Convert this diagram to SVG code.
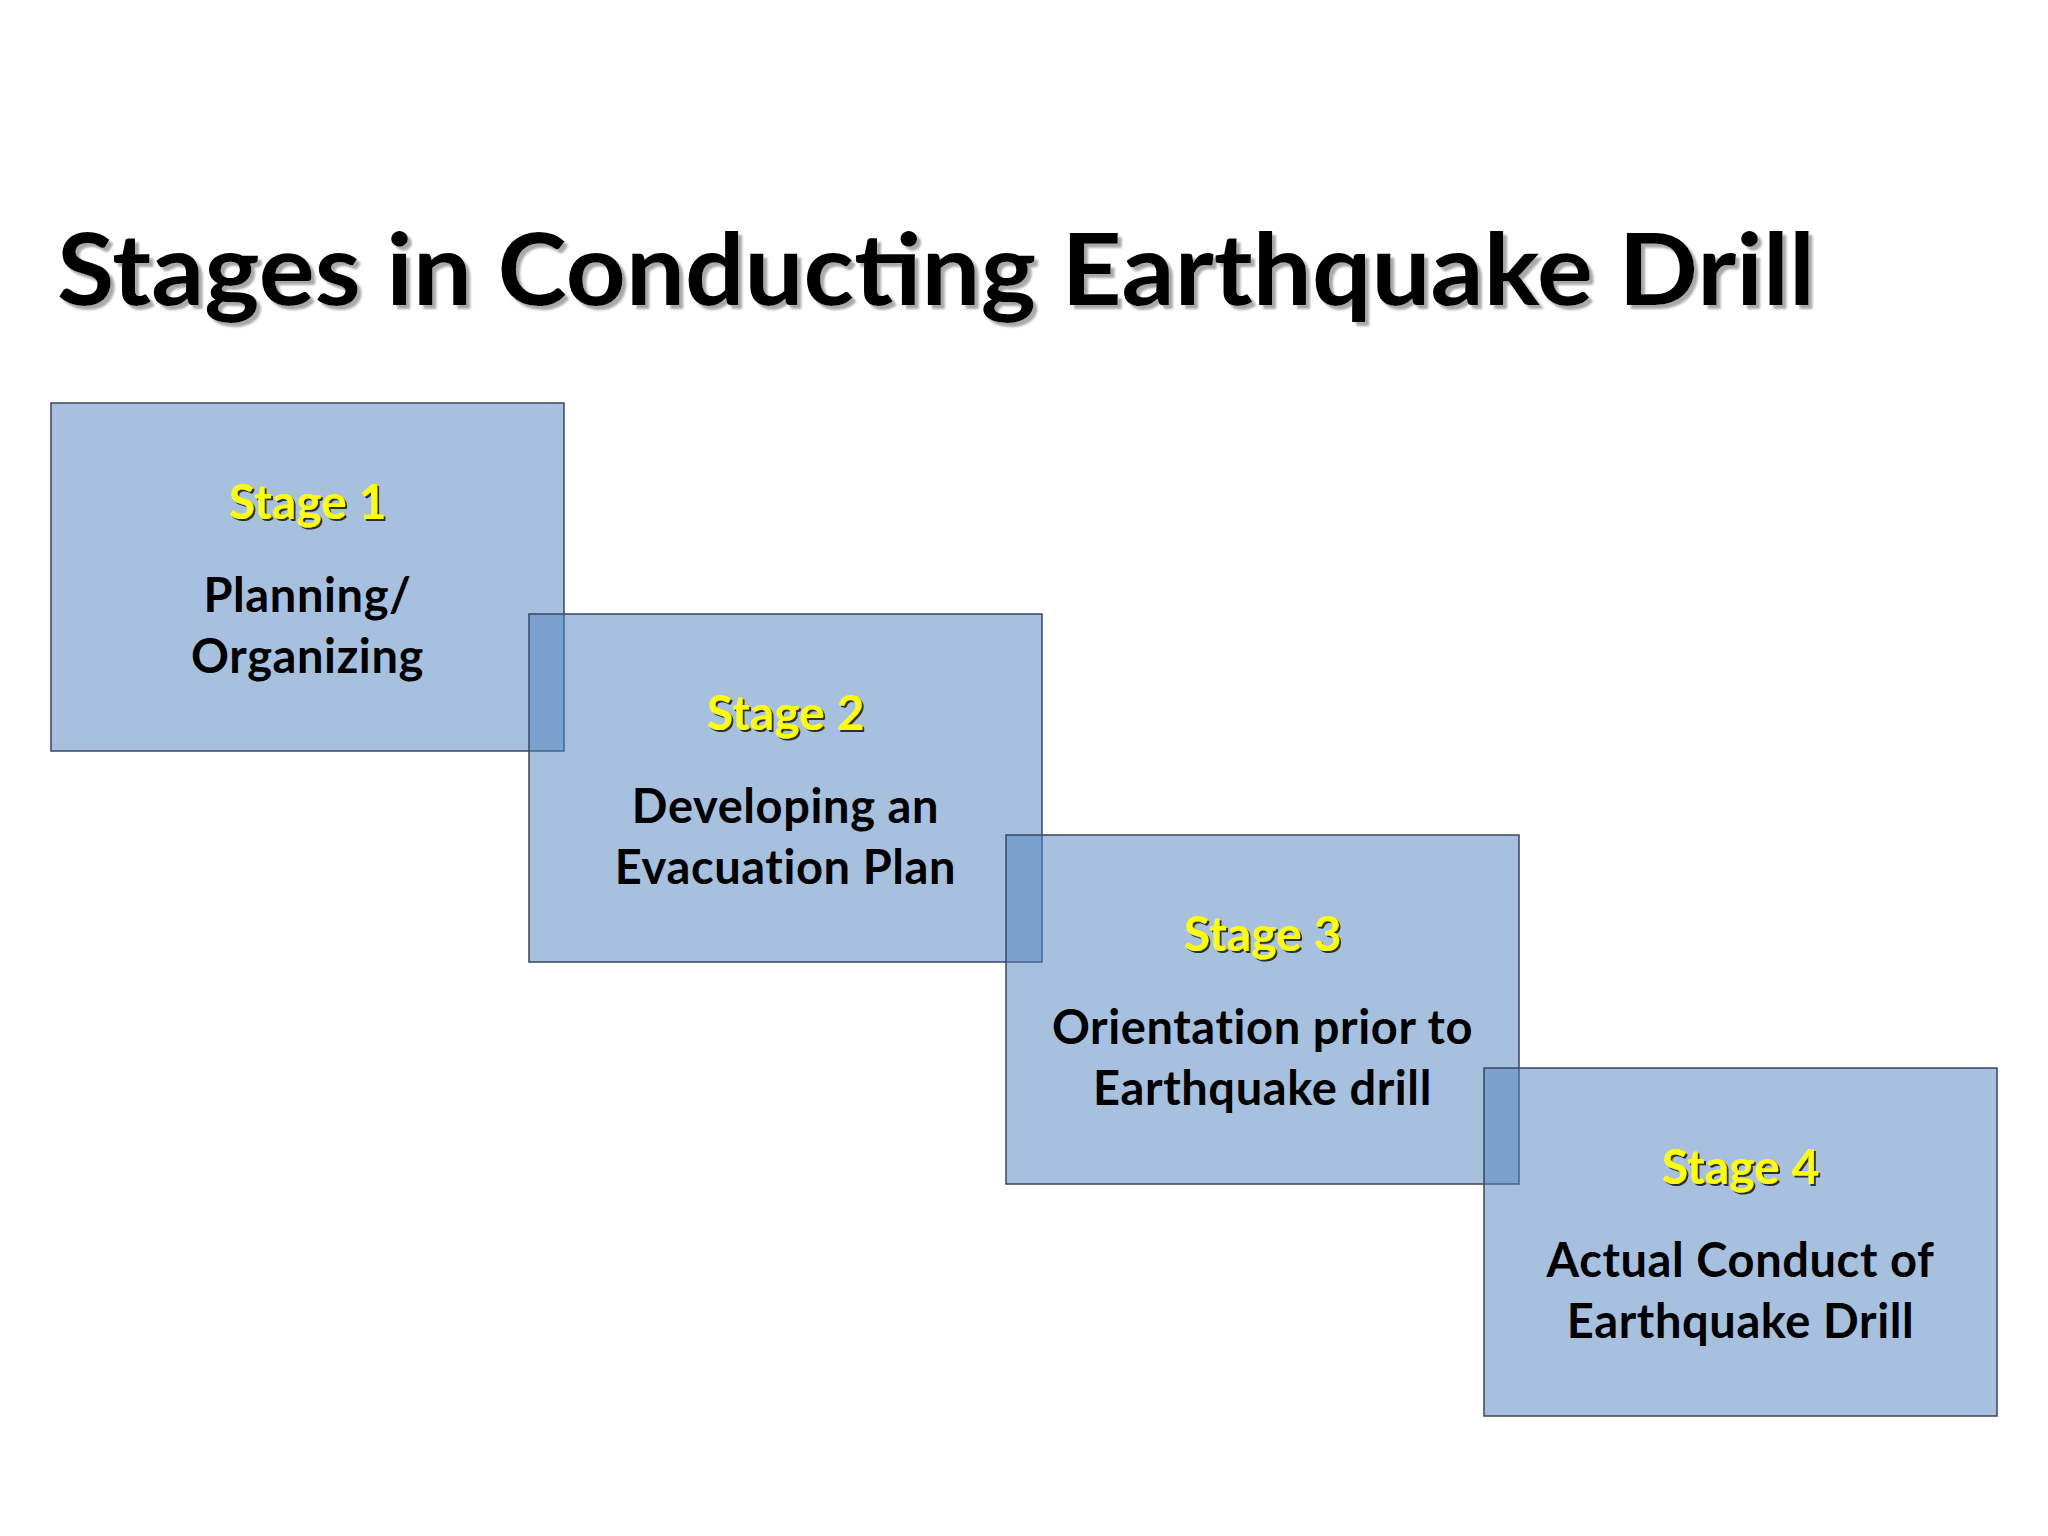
<svg xmlns="http://www.w3.org/2000/svg" width="2048" height="1536" viewBox="0 0 2048 1536">
  <defs>
    <filter id="titleShadow" x="-5%" y="-20%" width="110%" height="150%">
      <feDropShadow dx="4" dy="4" stdDeviation="0.8" flood-color="#9a9a9a" flood-opacity="0.85"/>
    </filter>
    <filter id="stageShadow" x="-10%" y="-20%" width="120%" height="150%">
      <feDropShadow dx="2" dy="2" stdDeviation="0.6" flood-color="#000000" flood-opacity="0.75"/>
    </filter>
  </defs>
  <style>
    .box { fill: #4F81BD; fill-opacity: 0.5; stroke: #3A4560; stroke-width: 1.5; }
    .title { font-family: Lato, "Liberation Sans", sans-serif; font-weight: 700; font-size: 100px; fill: #000000; }
    .stage { font-family: Lato, "Liberation Sans", sans-serif; font-weight: 700; font-size: 48px; fill: #FFFF00; text-anchor: middle; }
    .body { font-family: Lato, "Liberation Sans", sans-serif; font-weight: 700; font-size: 47px; letter-spacing: 0.6px; fill: #000000; text-anchor: middle; }
  </style>
  <rect width="2048" height="1536" fill="#FFFFFF"/>
  <text class="title" x="57" y="305" textLength="1758" lengthAdjust="spacingAndGlyphs" filter="url(#titleShadow)">Stages in Conducting Earthquake Drill</text>

  <g id="stage1">
    <rect class="box" x="51" y="403" width="513" height="348"/>
    <text class="stage" x="307.5" y="519" filter="url(#stageShadow)">Stage 1</text>
    <text class="body" x="307.5" y="612">Planning/</text>
    <text class="body" x="307.5" y="673">Organizing</text>
  </g>
  <g id="stage2">
    <rect class="box" x="529" y="614" width="513" height="348"/>
    <text class="stage" x="785.5" y="730" filter="url(#stageShadow)">Stage 2</text>
    <text class="body" x="785.5" y="823">Developing an</text>
    <text class="body" x="785.5" y="884">Evacuation Plan</text>
  </g>
  <g id="stage3">
    <rect class="box" x="1006" y="835" width="513" height="349"/>
    <text class="stage" x="1262.5" y="951" filter="url(#stageShadow)">Stage 3</text>
    <text class="body" x="1262.5" y="1044">Orientation prior to</text>
    <text class="body" x="1262.5" y="1105">Earthquake drill</text>
  </g>
  <g id="stage4">
    <rect class="box" x="1484" y="1068" width="513" height="348"/>
    <text class="stage" x="1740.5" y="1184" filter="url(#stageShadow)">Stage 4</text>
    <text class="body" x="1740.5" y="1277">Actual Conduct of</text>
    <text class="body" x="1740.5" y="1338">Earthquake Drill</text>
  </g>
  <g id="connectors"></g>
</svg>
